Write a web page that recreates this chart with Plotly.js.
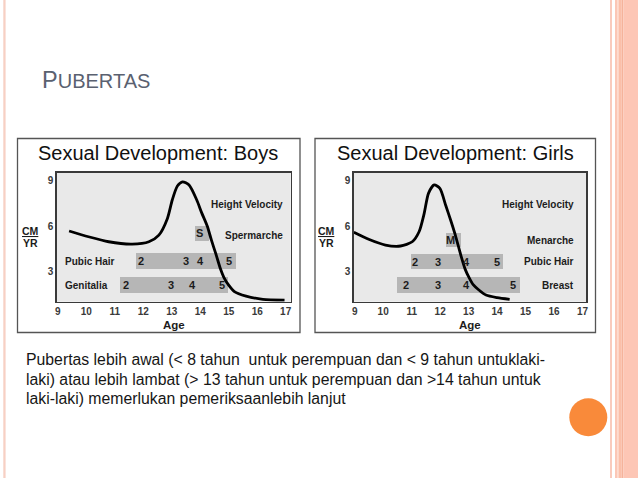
<!DOCTYPE html>
<html>
<head>
<meta charset="utf-8">
<script src="https://cdn.plot.ly/plotly-3.0.1.min.js"></script>
<style>html,body{margin:0;padding:0;background:#fff;}#chart{width:638px;height:478px;}</style>
</head>
<body>
<div id="chart"></div>
<script>
// ---- data ----
const ageTicks = [9, 10, 11, 12, 13, 14, 15, 16, 17];
const velocityTicks = [3, 6, 9];
const stageNumbers = ['2', '3', '4', '5'];

const boysAge = [9.40, 10.08, 10.79, 11.61, 12.2, 12.55, 12.85, 13.02, 13.2, 13.38, 13.61, 13.88, 14.05, 14.25, 14.4, 14.55, 14.71, 14.83, 15.0, 15.2, 15.61, 16.2, 16.96];
const boysVelocity = [5.69, 5.31, 4.98, 4.83, 4.98, 5.42, 6.52, 7.73, 8.65, 8.93, 8.72, 7.73, 6.9, 6.0, 5.05, 4.18, 3.2, 2.64, 2.12, 1.7, 1.4, 1.19, 1.14];

const girlsAge = [8.97, 9.49, 10.08, 10.61, 11.02, 11.26, 11.44, 11.59, 11.79, 11.99, 12.2, 12.37, 12.52, 12.63, 12.74, 12.88, 13.02, 13.16, 13.36, 13.61, 14.0, 14.44];
const girlsVelocity = [5.6, 5.14, 4.76, 4.7, 4.98, 5.64, 6.85, 8.17, 8.72, 8.5, 7.35, 6.4, 5.5, 4.75, 4.0, 3.16, 2.6, 2.15, 1.8, 1.47, 1.3, 1.19];

const boysRows = ['S', 'Pubic Hair', 'Genitalia'];
const boysRowLevel = [5.53, 3.69, 2.13];
const boysRowHeight = [0.99, 1.04, 1.02];
const boysRowStart = [13.83, 11.73, 11.2];
const boysRowEnd = [14.31, 15.26, 14.97];
const boysPubicStageAge = [11.94, 13.49, 14.0, 15.02];
const boysGenitaliaStageAge = [11.41, 12.96, 13.74, 14.77];

const girlsRows = ['M', 'Pubic Hair', 'Breast'];
const girlsRowLevel = [5.07, 3.67, 2.13];
const girlsRowHeight = [0.92, 1.02, 1.02];
const girlsRowStart = [12.2, 10.96, 10.49];
const girlsRowEnd = [12.73, 14.2, 14.79];
const girlsPubicStageAge = [11.12, 11.91, 12.94, 13.99];
const girlsBreastStageAge = [10.79, 11.91, 12.94, 14.56];

const bodyLines = [
  'Pubertas lebih awal (&lt; 8 tahun&nbsp; untuk perempuan dan &lt; 9 tahun untuklaki-',
  'laki) atau lebih lambat (&gt; 13 tahun untuk perempuan dan &gt;14 tahun untuk',
  'laki-laki) memerlukan pemeriksaanlebih lanjut'
];

// ---- helpers (pixel -> paper) ----
const W = 638, H = 478;
const px = v => v / W;
const py = v => 1 - v / H;
const FONT = 'Liberation Sans, Arial, sans-serif';

function lengths(s, e) { return s.map((v, i) => e[i] - v); }

const traces = [
  {type: 'bar', orientation: 'h', xaxis: 'x', yaxis: 'y',
   y: boysRowLevel, base: boysRowStart, x: lengths(boysRowStart, boysRowEnd), width: boysRowHeight,
   marker: {color: '#b6b6b6', line: {width: 0}}, hoverinfo: 'skip'},
  {type: 'bar', orientation: 'h', xaxis: 'x2', yaxis: 'y2',
   y: girlsRowLevel, base: girlsRowStart, x: lengths(girlsRowStart, girlsRowEnd), width: girlsRowHeight,
   marker: {color: '#b6b6b6', line: {width: 0}}, hoverinfo: 'skip'},
  {type: 'scatter', mode: 'lines', xaxis: 'x', yaxis: 'y', x: boysAge, y: boysVelocity,
   line: {color: '#000', width: 2.8, shape: 'spline', smoothing: 0.7}, hoverinfo: 'skip'},
  {type: 'scatter', mode: 'lines', xaxis: 'x2', yaxis: 'y2', x: girlsAge, y: girlsVelocity,
   line: {color: '#000', width: 2.8, shape: 'spline', smoothing: 0.7}, hoverinfo: 'skip'}
];

const ann = [];
function dataText(xref, yref, x, y, text, size, anchor) {
  ann.push({xref: xref, yref: yref, x: x, y: y, text: '<b>' + text + '</b>', showarrow: false,
    xanchor: anchor || 'center', yanchor: 'middle', font: {family: FONT, size: size, color: '#1c1c1c'}});
}
// stage numbers
boysPubicStageAge.forEach((a, i) => dataText('x', 'y', a, boysRowLevel[1], stageNumbers[i], 11));
boysGenitaliaStageAge.forEach((a, i) => dataText('x', 'y', a, boysRowLevel[2], stageNumbers[i], 11));
girlsPubicStageAge.forEach((a, i) => dataText('x2', 'y2', a, girlsRowLevel[1], stageNumbers[i], 11));
girlsBreastStageAge.forEach((a, i) => dataText('x2', 'y2', a, girlsRowLevel[2], stageNumbers[i], 11));
// event letters in boxes
dataText('x', 'y', 13.99, boysRowLevel[0] + 0.02, boysRows[0], 11);
dataText('x2', 'y2', 12.37, girlsRowLevel[0], girlsRows[0], 11);
// row labels boys
dataText('x', 'y', 16.96, 7.44, 'Height Velocity', 10, 'right');
dataText('x', 'y', 16.96, 5.42, 'Spermarche', 10, 'right');
dataText('x', 'y', 9.2, boysRowLevel[1], boysRows[1], 10, 'left');
dataText('x', 'y', 9.2, boysRowLevel[2], boysRows[2], 10, 'left');
// row labels girls
dataText('x2', 'y2', 16.77, 7.44, 'Height Velocity', 10, 'right');
dataText('x2', 'y2', 16.77, 5.09, 'Menarche', 10, 'right');
dataText('x2', 'y2', 16.77, girlsRowLevel[1], girlsRows[1], 10, 'right');
dataText('x2', 'y2', 16.77, girlsRowLevel[2] - 0.05, girlsRows[2], 10, 'right');

function paperText(x, y, text, size, color, xanchor) {
  ann.push({xref: 'paper', yref: 'paper', x: px(x), y: py(y), text: text, showarrow: false,
    xanchor: xanchor || 'center', yanchor: 'middle', font: {family: FONT, size: size, color: color}});
}
// chart titles
paperText(158.3, 153, 'Sexual Development: Boys', 20, '#111');
paperText(455.3, 153, 'Sexual Development: Girls', 20, '#111');
// y titles
[30, 327].forEach(x => {
  paperText(x, 231, '<b><u>CM</u></b>', 10.5, '#1c1c1c');
  paperText(x, 243, '<b>YR</b>', 10.5, '#1c1c1c');
});
// x titles
paperText(173.5, 325, '<b>Age</b>', 11.5, '#1c1c1c');
paperText(470, 325, '<b>Age</b>', 11.5, '#1c1c1c');
// slide title
paperText(39.5, 80.5, 'P<span style="font-size:20px">UBERTAS</span>', 23.5, '#5a6170', 'left');
// body text
bodyLines.forEach((t, i) => paperText(24, 359.5 + i * 19.7, t, 15.8, '#161616', 'left'));

const shapes = [
  // slide decoration
  {type: 'rect', xref: 'paper', yref: 'paper', x0: px(3.3), x1: px(5.6), y0: 0, y1: 1, fillcolor: '#f7d0c4', line: {width: 0}},
  {type: 'rect', xref: 'paper', yref: 'paper', x0: px(610), x1: px(612), y0: 0, y1: 1, fillcolor: '#f9cbbd', line: {width: 0}},
  {type: 'rect', xref: 'paper', yref: 'paper', x0: px(615), x1: px(617), y0: 0, y1: 1, fillcolor: '#fbc7b6', line: {width: 0}},
  {type: 'rect', xref: 'paper', yref: 'paper', x0: px(617), x1: px(618.5), y0: 0, y1: 1, fillcolor: '#fddcd0', line: {width: 0}},
  {type: 'rect', xref: 'paper', yref: 'paper', x0: px(618.5), x1: px(621.7), y0: 0, y1: 1, fillcolor: '#fbbfa9', line: {width: 0}},
  {type: 'rect', xref: 'paper', yref: 'paper', x0: px(621.7), x1: px(623.3), y0: 0, y1: 1, fillcolor: '#f5b39b', line: {width: 0}},
  {type: 'rect', xref: 'paper', yref: 'paper', x0: px(623.3), x1: 1, y0: 0, y1: 1, fillcolor: '#fdc6b5', line: {width: 0}},
  {type: 'circle', xref: 'paper', yref: 'paper', x0: px(569.3), x1: px(607.3), y0: py(436.3), y1: py(398.3), fillcolor: '#f98a3a', line: {width: 0}},
  // chart frames
  {type: 'rect', xref: 'paper', yref: 'paper', x0: px(17.5), x1: px(300), y0: py(332.5), y1: py(138.5), fillcolor: 'rgba(0,0,0,0)', line: {color: '#555', width: 1.3}},
  {type: 'rect', xref: 'paper', yref: 'paper', x0: px(315), x1: px(595.5), y0: py(332.5), y1: py(138.5), fillcolor: 'rgba(0,0,0,0)', line: {color: '#555', width: 1.3}}
];

const yDom = [py(301.7), py(172.7)];
const tickFont = {family: FONT, size: 10, color: '#3a3a3a', weight: 'bold'};
function xAx(domain, range, anchor) {
  return {domain: domain, range: range, anchor: anchor, tickvals: ageTicks, ticktext: ageTicks.map(String), ticks: '',
    showgrid: false, zeroline: false, showline: true, mirror: true, linecolor: '#3a3a3a', linewidth: 1.5,
    tickfont: tickFont, fixedrange: true};
}
function yAx(anchor) {
  return {domain: yDom, range: [1.03, 9.53], anchor: anchor, tickvals: velocityTicks, ticks: '',
    showgrid: false, zeroline: false, showline: true, mirror: true, linecolor: '#3a3a3a', linewidth: 1.5,
    tickfont: tickFont, fixedrange: true};
}

const layout = {
  width: W, height: H, margin: {l: 0, r: 0, t: 0, b: 0},
  paper_bgcolor: '#ffffff', plot_bgcolor: '#e9e9e9',
  showlegend: false, barmode: 'overlay', bargap: 0,
  xaxis: xAx([px(56.7), px(290.7)], [8.965, 17.176], 'y'),
  yaxis: yAx('x'),
  xaxis2: xAx([px(353.7), px(586)], [8.965, 17.12], 'y2'),
  yaxis2: yAx('x2'),
  annotations: ann,
  shapes: shapes
};

Plotly.newPlot('chart', traces, layout, {staticPlot: true, displayModeBar: false});
</script>
</body>
</html>
